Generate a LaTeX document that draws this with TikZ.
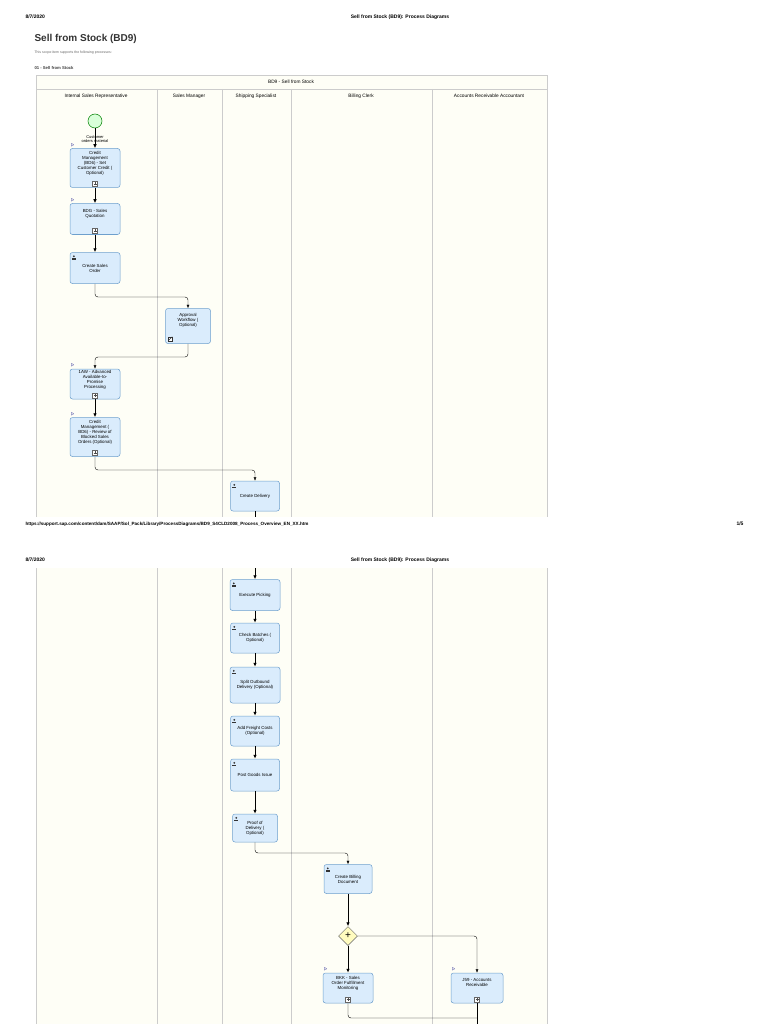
\documentclass[tikz,border=0pt]{standalone}
\usepackage{fontspec}
\setmainfont{Liberation Sans}
\usetikzlibrary{arrows.meta,shapes.geometric,calc}
\definecolor{tfill}{RGB}{218,236,252}
\definecolor{tdraw}{RGB}{110,160,205}
\definecolor{poolbg}{RGB}{254,254,246}
\begin{document}
\begin{tikzpicture}[x=1pt,y=-1pt,
  task/.style={draw=tdraw,fill=tfill,rounded corners=2.5pt,line width=0.5pt,align=center,font=\fontsize{4.4}{5}\selectfont,inner sep=1pt},
  flow/.style={-{Latex[length=4pt,width=3.5pt]},line width=0.8pt},
  lflow/.style={-{Latex[length=3.5pt,width=3pt]},line width=0.4pt,rounded corners=3pt},
  lane/.style={draw=black!20,line width=0.4pt},
  lbl/.style={font=\fontsize{4.8}{5.5}\selectfont},
  hdr/.style={font=\fontsize{5}{6}\selectfont\bfseries}
]
\useasboundingbox (0,0) rectangle (768,1024);
\fill[white] (0,0) rectangle (768,1024);
% page 1 texts
\node[hdr,anchor=west] (d1) at (22,17) {8/7/2020};
\node[hdr] (t1) at (400,17) {Sell from Stock (BD9): Process Diagrams};
\node[anchor=west,font=\fontsize{10}{12}\selectfont\bfseries,text=black!80] (ttl) at (31,39) {Sell from Stock (BD9)};
\node[anchor=west,font=\fontsize{3.5}{4}\selectfont,text=black!60] (sub) at (31,53) {This scope item supports the following processes:};
\node[anchor=west,font=\fontsize{4.2}{5}\selectfont\bfseries,text=black!75] (p01) at (31,68) {01 - Sell from Stock};
% pool page 1
\fill[poolbg] (36,75) rectangle (547,517);
\draw[lane] (36,517) -- (36,75) -- (547,75) -- (547,517);
\draw[lane] (36,89) -- (547,89);
\foreach \x in {157,222,291,432} \draw[lane] (\x,89) -- (\x,517);
\node[lbl] (pool) at (291,82) {BD9 - Sell from Stock};
\node[lbl] (l1) at (96,96) {Internal Sales Representative};
\node[lbl] (l2) at (189,96) {Sales Manager};
\node[lbl] (l3) at (256,96) {Shipping Specialist};
\node[lbl] (l4) at (361,96) {Billing Clerk};
\node[lbl] (l5) at (489,96) {Accounts Receivable Accountant};
\node[hdr,anchor=west,font=\fontsize{4.6}{5}\selectfont\bfseries] (url) at (22,524) {https://support.sap.com/content/dam/SAAP/Sol\_Pack/Library/ProcessDiagrams/BD9\_S4CLD2008\_Process\_Overview\_EN\_XX.htm};
\node[hdr] (pg) at (740,524) {1/5};
% page 2
\node[hdr,anchor=west] (d2) at (22,560) {8/7/2020};
\node[hdr] (t2) at (400,560) {Sell from Stock (BD9): Process Diagrams};
\fill[poolbg] (36,568) rectangle (547,1024);
\draw[lane] (36,568) -- (36,1024) (547,568) -- (547,1024);
\foreach \x in {157,222,291,432} \draw[lane] (\x,568) -- (\x,1024);
% nodes page 1
\node[circle,draw=green!50!black,fill=green!15,minimum size=14pt,inner sep=0,line width=0.5pt] (st) at (95,121) {};
\node[font=\fontsize{4}{4.6}\selectfont,align=center] (stl) at (95,139) {Customer\\orders material};
\node[task,minimum width=50pt,minimum height=39pt] (cm) at (95,168) {Credit\\Management\\(BD6) - Set\\Customer Credit (\\Optional)\\[5pt]};
\node[task,minimum width=50pt,minimum height=31pt] (bdg) at (95,219) {BDG - Sales\\Quotation\\[7pt]};
\node[task,minimum width=50pt,minimum height=31pt] (cso) at (95,268) {Create Sales\\Order};
\node[task,minimum width=45pt,minimum height=35pt] (aw) at (188,326) {Approval\\Workflow (\\Optional)\\[7pt]};
\node[task,minimum width=50pt,minimum height=30pt] (atp) at (95,384) {1AW - Advanced\\Available-to-\\Promise\\Processing\\[4pt]};
\node[task,minimum width=50pt,minimum height=39pt] (rev) at (95,437) {Credit\\Management (\\BD6) - Review of\\Blocked Sales\\Orders (Optional)\\[5pt]};
\node[task,minimum width=49pt,minimum height=30pt] (cd) at (255,496) {Create Delivery};
% nodes page 2
\node[task,minimum width=50pt,minimum height=31pt] (ep) at (255,595) {Execute Picking};
\node[task,minimum width=49pt,minimum height=30pt] (cb) at (255,638) {Check Batches (\\Optional)};
\node[task,minimum width=50pt,minimum height=36pt] (sod) at (255,685) {Split Outbound\\Delivery (Optional)};
\node[task,minimum width=49pt,minimum height=30pt] (afc) at (255,731) {Add Freight Costs\\(Optional)};
\node[task,minimum width=49pt,minimum height=32pt] (pgi) at (255,775) {Post Goods Issue};
\node[task,minimum width=45pt,minimum height=28pt] (pod) at (255,828) {Proof of\\Delivery (\\Optional)};
\node[task,minimum width=48pt,minimum height=29pt] (cbd) at (348,879) {Create Billing\\Document};
\node[diamond,draw=black!60,fill=yellow!25,minimum size=19pt,inner sep=0,line width=0.5pt] (gw) at (348,936) {};
\node[font=\fontsize{10}{10}\selectfont] (gwp) at (348,936) {+};
\node[task,minimum width=50pt,minimum height=30pt] (bkk) at (348,988) {BKK - Sales\\Order Fulfillment\\Monitoring\\[6pt]};
\node[task,minimum width=52pt,minimum height=30pt] (j59) at (477,988) {J59 - Accounts\\Receivable\\[7pt]};
% subprocess markers
\foreach \n in {cm,bdg,atp,rev,bkk,j59}{
  \draw[black!60,line width=0.3pt,fill=white] ($(\n.south)+(-2.5,-6.5)$) rectangle ($(\n.south)+(2.5,-1.5)$);
  \draw[black!70,line width=0.3pt] ($(\n.south)+(-1.5,-4)$) -- ($(\n.south)+(1.5,-4)$) ($(\n.south)+(0,-5.5)$) -- ($(\n.south)+(0,-2.5)$);
}
% call-activity markers
\foreach \n in {cm,bdg,atp,rev,bkk,j59}{
  \node[font=\fontsize{3.5}{4}\selectfont,text=blue!50!black] at ($(\n.north west)+(3,-3)$) {$\triangleright$};
}
% user icons
\foreach \n in {cso,cd,ep,cb,sod,afc,pgi,pod,cbd}{
  \fill[black!80] ($(\n.north west)+(4,4)$) circle (1pt);
  \fill[black!80] ($(\n.north west)+(2,7.5)$) rectangle ($(\n.north west)+(6,6)$);
}
% approval icon
\draw[black!80,line width=0.4pt,fill=white] ($(aw.south west)+(3,-3)$) rectangle ($(aw.south west)+(7,-7)$);
\draw[black!80,line width=0.4pt] ($(aw.south west)+(3,-3)$) -- ($(aw.south west)+(7,-7)$);
% edges
\draw[flow] (st) -- (cm);
\draw[flow] (cm) -- (bdg);
\draw[flow] (bdg) -- (cso);
\draw[lflow] (cso.south) |- (150,297) -| (aw.north);
\draw[lflow] (aw.south) |- (120,357) -| (atp.north);
\draw[flow] (atp) -- (rev);
\draw[lflow] (rev.south) |- (200,470) -| (cd.north);
\coordinate (e1) at (255,517);
\coordinate (e2) at (255,568);
\draw[line width=0.8pt] (cd) -- (e1);
\draw[flow] (e2) -- (ep);
\draw[flow] (ep) -- (cb);
\draw[flow] (cb) -- (sod);
\draw[flow] (sod) -- (afc);
\draw[flow] (afc) -- (pgi);
\draw[flow] (pgi) -- (pod);
\draw[lflow] (pod.south) |- (300,853) -| (cbd.north);
\draw[flow] (cbd) -- (gw);
\draw[flow] (gw) -- (bkk);
\draw[lflow] (gw.east) -| (j59.north);
\coordinate (e3) at (477,1024);
\coordinate (e4) at (477,1018);
\draw[line width=0.4pt,rounded corners=3pt] (bkk.south) |- (e4);
\draw[line width=0.8pt] (j59) -- (e3);
\end{tikzpicture}
\end{document}
